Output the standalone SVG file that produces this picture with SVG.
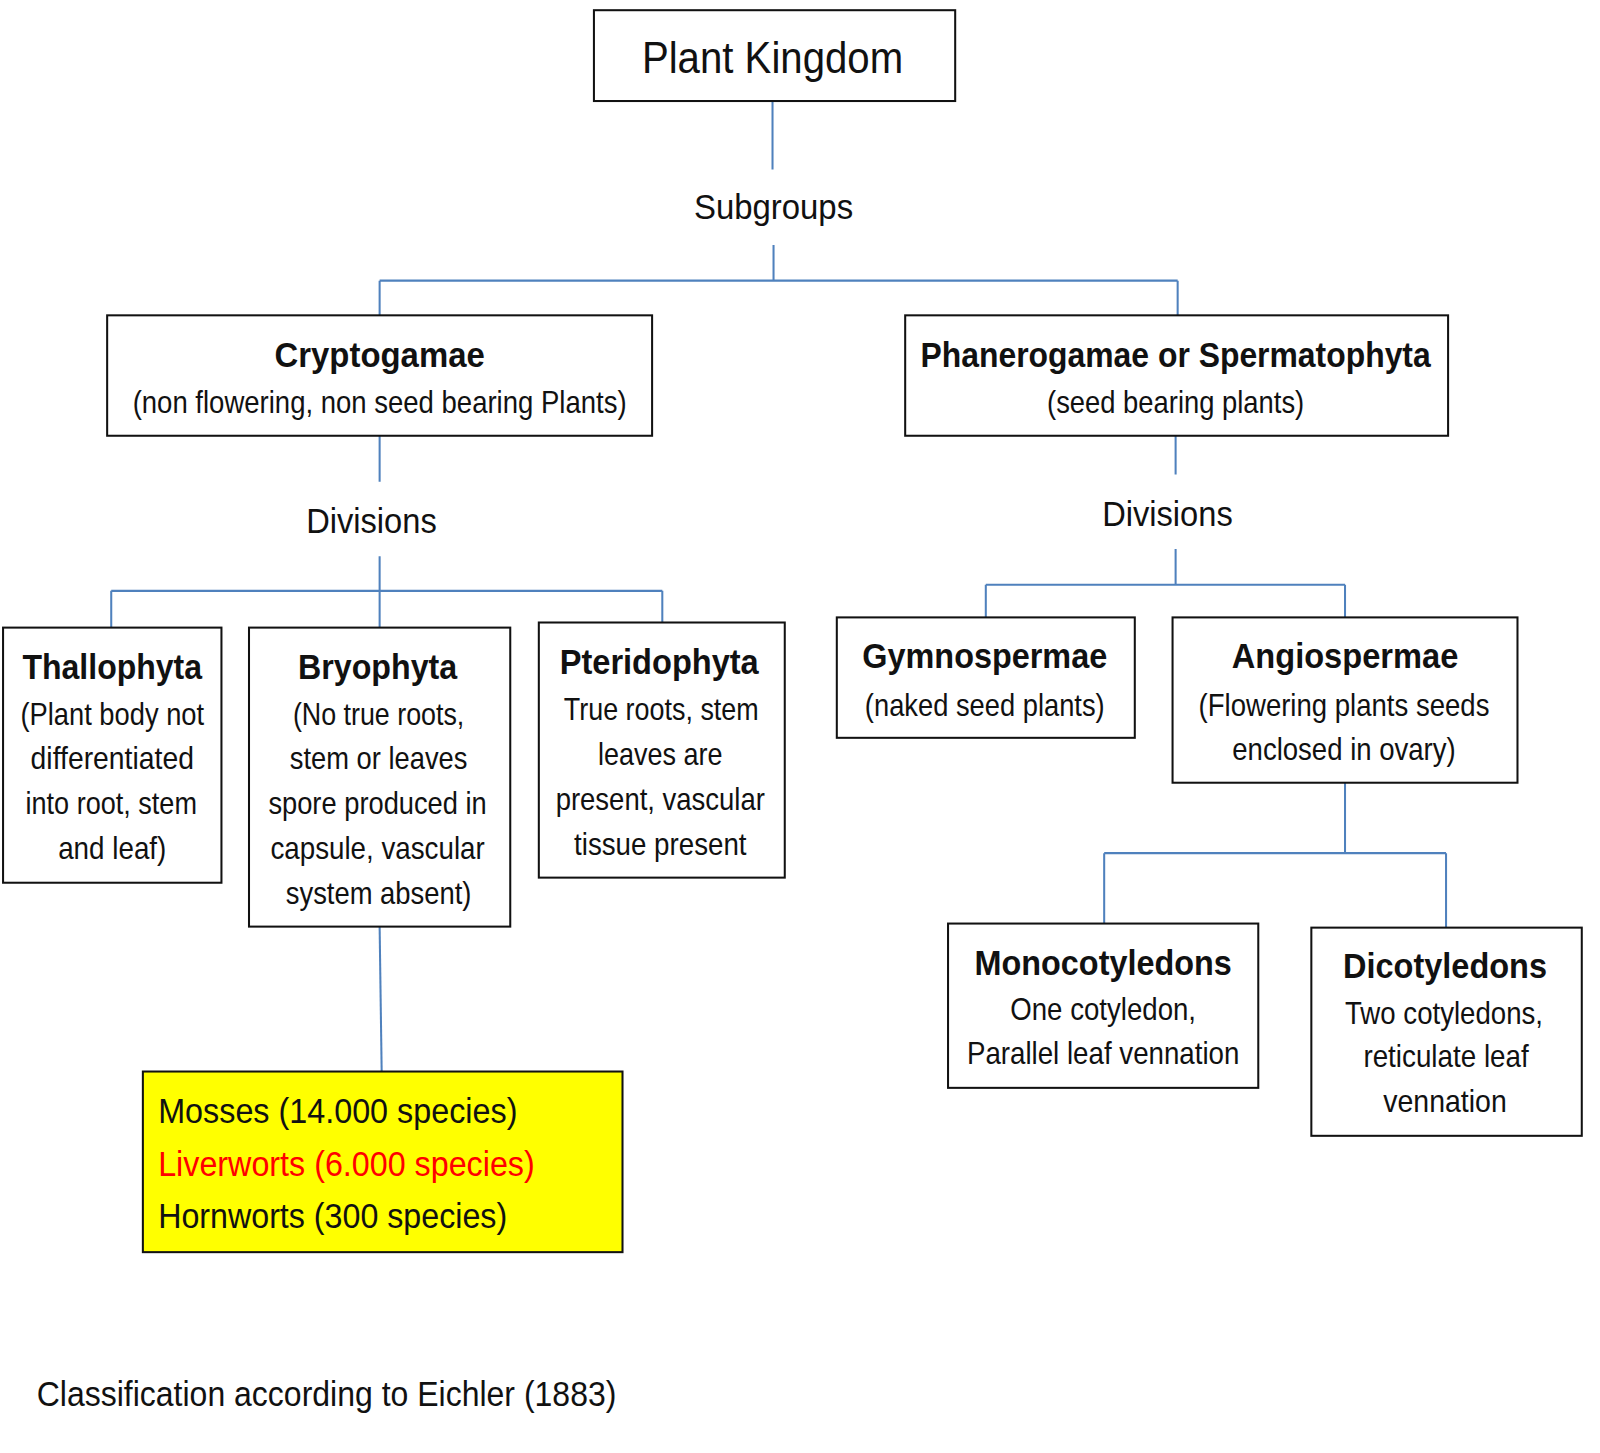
<svg xmlns="http://www.w3.org/2000/svg" width="1600" height="1453" viewBox="0 0 1600 1453">
<style>
text{font-family:"Liberation Sans",Arial,sans-serif;fill:#111;text-anchor:middle;font-size:31px}
.t{font-weight:bold;font-size:35px}
.l{text-anchor:start}
rect{fill:#fff;stroke:#111;stroke-width:2}
#conn path{stroke:#4f81bd;stroke-width:2;fill:none}
</style>
<rect x="0" y="0" width="1600" height="1453" style="stroke:none"/>
<g transform="scale(1.0205)">
<g id="conn">
<path d="M757 99V166M758 240V275M372 275H1154M372 275V309M1154 275V309"/>
<path d="M372 427V472M372 545V579M109 579H649M109 579V615M372 579V615M649 579V610"/>
<path d="M1152 427V465M1152 538V573M966 573H1318M966 573V605M1318 573V605"/>
<path d="M1318 767V836M1082 836H1417M1082 836V905M1417 836V909"/>
<path d="M372 908L374 1050"/>
</g>
<g id="plant-kingdom"><rect x="582" y="10" width="354" height="89"/>
<text x="757" y="72" style="font-size:44px" textLength="256" lengthAdjust="spacingAndGlyphs">Plant Kingdom</text></g>
<g id="subgroups"><text x="758" y="215" style="font-size:34px" textLength="156" lengthAdjust="spacingAndGlyphs">Subgroups</text></g>
<g id="cryptogamae"><rect x="105" y="309" width="534" height="118"/>
<text class="t" x="372" y="360" textLength="206" lengthAdjust="spacingAndGlyphs">Cryptogamae</text>
<text x="372" y="405" textLength="484" lengthAdjust="spacingAndGlyphs">(non flowering, non seed bearing Plants)</text></g>
<g id="phanerogamae"><rect x="887" y="309" width="532" height="118"/>
<text class="t" x="1152" y="360" textLength="500" lengthAdjust="spacingAndGlyphs">Phanerogamae or Spermatophyta</text>
<text x="1152" y="405" textLength="252" lengthAdjust="spacingAndGlyphs">(seed bearing plants)</text></g>
<g id="divisions-left"><text x="364" y="522" style="font-size:34px" textLength="128" lengthAdjust="spacingAndGlyphs">Divisions</text></g>
<g id="divisions-right"><text x="1144" y="515" style="font-size:34px" textLength="128" lengthAdjust="spacingAndGlyphs">Divisions</text></g>
<g id="thallophyta"><rect x="3" y="615" width="214" height="250"/>
<text class="t" x="110" y="665" textLength="176" lengthAdjust="spacingAndGlyphs">Thallophyta</text>
<text x="110" y="710" textLength="180" lengthAdjust="spacingAndGlyphs">(Plant body not</text>
<text x="110" y="754" textLength="160" lengthAdjust="spacingAndGlyphs">differentiated</text>
<text x="109" y="798" textLength="168" lengthAdjust="spacingAndGlyphs">into root, stem</text>
<text x="110" y="842" textLength="106" lengthAdjust="spacingAndGlyphs">and leaf)</text></g>
<g id="bryophyta"><rect x="244" y="615" width="256" height="293"/>
<text class="t" x="370" y="665" textLength="156" lengthAdjust="spacingAndGlyphs">Bryophyta</text>
<text x="371" y="710" textLength="168" lengthAdjust="spacingAndGlyphs">(No true roots,</text>
<text x="371" y="754" textLength="174" lengthAdjust="spacingAndGlyphs">stem or leaves</text>
<text x="370" y="798" textLength="214" lengthAdjust="spacingAndGlyphs">spore produced in</text>
<text x="370" y="842" textLength="210" lengthAdjust="spacingAndGlyphs">capsule, vascular</text>
<text x="371" y="886" textLength="182" lengthAdjust="spacingAndGlyphs">system absent)</text></g>
<g id="pteridophyta"><rect x="528" y="610" width="241" height="250"/>
<text class="t" x="646" y="660" textLength="195" lengthAdjust="spacingAndGlyphs">Pteridophyta</text>
<text x="648" y="706" textLength="191" lengthAdjust="spacingAndGlyphs">True roots,  stem</text>
<text x="647" y="750" textLength="122" lengthAdjust="spacingAndGlyphs">leaves are</text>
<text x="647" y="794" textLength="205" lengthAdjust="spacingAndGlyphs">present, vascular</text>
<text x="647" y="838" textLength="169" lengthAdjust="spacingAndGlyphs">tissue present</text></g>
<g id="gymnospermae"><rect x="820" y="605" width="292" height="118"/>
<text class="t" x="965" y="655" textLength="240" lengthAdjust="spacingAndGlyphs">Gymnospermae</text>
<text x="965" y="702" textLength="235" lengthAdjust="spacingAndGlyphs">(naked seed plants)</text></g>
<g id="angiospermae"><rect x="1149" y="605" width="338" height="162"/>
<text class="t" x="1318" y="655" textLength="222" lengthAdjust="spacingAndGlyphs">Angiospermae</text>
<text x="1317" y="702" textLength="285" lengthAdjust="spacingAndGlyphs">(Flowering plants seeds</text>
<text x="1317" y="745" textLength="219" lengthAdjust="spacingAndGlyphs">enclosed in ovary)</text></g>
<g id="monocotyledons"><rect x="929" y="905" width="304" height="161"/>
<text class="t" x="1081" y="955" textLength="252" lengthAdjust="spacingAndGlyphs">Monocotyledons</text>
<text x="1081" y="1000" textLength="182" lengthAdjust="spacingAndGlyphs">One cotyledon,</text>
<text x="1081" y="1043" textLength="267" lengthAdjust="spacingAndGlyphs">Parallel leaf vennation</text></g>
<g id="dicotyledons"><rect x="1285" y="909" width="265" height="204"/>
<text class="t" x="1416" y="958" textLength="200" lengthAdjust="spacingAndGlyphs">Dicotyledons</text>
<text x="1415" y="1003" textLength="194" lengthAdjust="spacingAndGlyphs">Two cotyledons,</text>
<text x="1417" y="1046" textLength="162" lengthAdjust="spacingAndGlyphs">reticulate leaf</text>
<text x="1416" y="1090" textLength="121" lengthAdjust="spacingAndGlyphs">vennation</text></g>
<g id="bryophyta-groups"><rect x="140" y="1050" width="470" height="177" style="fill:#ffff00"/>
<text class="l" x="155" y="1100" style="font-size:34px" textLength="352" lengthAdjust="spacingAndGlyphs">Mosses (14.000 species)</text>
<text class="l" x="155" y="1152" style="font-size:34px;fill:#ff0000" textLength="369" lengthAdjust="spacingAndGlyphs">Liverworts (6.000 species)</text>
<text class="l" x="155" y="1203" style="font-size:34px" textLength="342" lengthAdjust="spacingAndGlyphs">Hornworts (300 species)</text></g>
<g id="footer"><text class="l" x="36" y="1378" style="font-size:34px" textLength="568" lengthAdjust="spacingAndGlyphs">Classification according to Eichler (1883)</text></g>
</g>
</svg>
